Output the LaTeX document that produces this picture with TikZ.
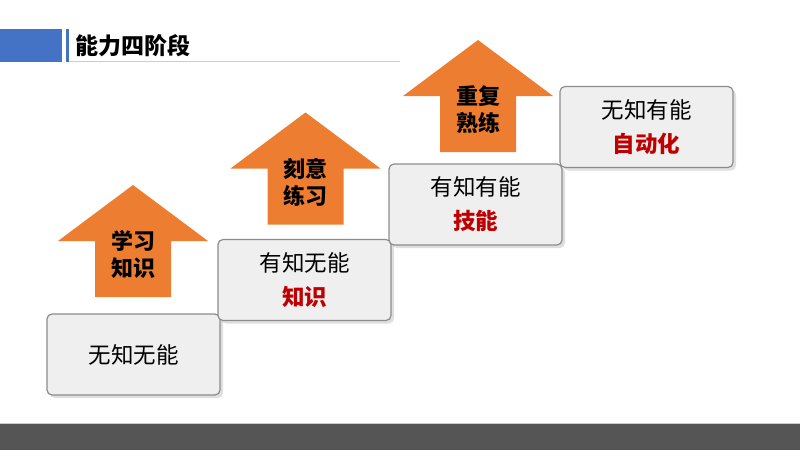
\documentclass[tikz,border=0pt]{standalone}
\usepackage{fontspec}
\setmainfont{Noto Sans CJK SC}
\usetikzlibrary{shadows}
\definecolor{barblue}{HTML}{4472C4}
\definecolor{arroworange}{HTML}{ED7D31}
\definecolor{boxfill}{HTML}{EFEFEF}
\definecolor{boxline}{HTML}{8C8C8C}
\definecolor{keyred}{HTML}{C00000}
\definecolor{ruleteal}{HTML}{B7D5DA}
\definecolor{footgray}{HTML}{555555}
\tikzset{
  stepbox/.style={draw=boxline,line width=1.2pt,fill=boxfill,rounded corners=5pt,
    minimum width=173pt,minimum height=81pt,align=center,font=\fontsize{22.5}{34}\selectfont,
    drop shadow={opacity=0.25,shadow xshift=3pt,shadow yshift=-3pt}},
  arrowtext/.style={font=\bfseries\fontsize{22}{27}\selectfont,align=center,inner sep=0pt},
  keyword/.style={text=keyred,font=\bfseries}
}
\begin{document}
\begin{tikzpicture}[x=1pt,y=-1pt]
\useasboundingbox (0,0) rectangle (800,450);
% title bar
\fill[barblue] (0,29) rectangle (62,62);
\fill[barblue] (66,29) rectangle (69,62);
\draw[ruleteal,line width=1pt] (69,61) -- (400,61);
\node[anchor=west,font=\bfseries\fontsize{23}{26}\selectfont] (title) at (72,45.5) {能力四阶段};
% footer
\fill[footgray] (0,424) rectangle (800,450);
\draw[gray!40,line width=0.8pt] (0,423.5) -- (800,423.5);

% arrows
\foreach \i/\ta/\tb in {0/学习/知识,1/刻意/练习,2/重复/熟练}{
  \begin{scope}[shift={(172.5*\i,-72.5*\i)}]
    \fill[arroworange] (133,185) -- (208,241) -- (171,241) -- (171,297)
      -- (95,297) -- (95,241) -- (58,241) -- cycle;
    \node[arrowtext] (up\i) at (133,254.5) {\ta\\\tb};
  \end{scope}
}

% stages
\node[stepbox] (s1) at (133.5,354.5) {无知无能};
\node[stepbox] (s2) at (304.5,280) {有知无能\\{\color{keyred}\bfseries 知识}};
\node[stepbox] (s3) at (475.5,204.5) {有知有能\\{\color{keyred}\bfseries 技能}};
\node[stepbox] (s4) at (646.5,127) {无知有能\\{\color{keyred}\bfseries 自动化}};
\end{tikzpicture}
\end{document}
